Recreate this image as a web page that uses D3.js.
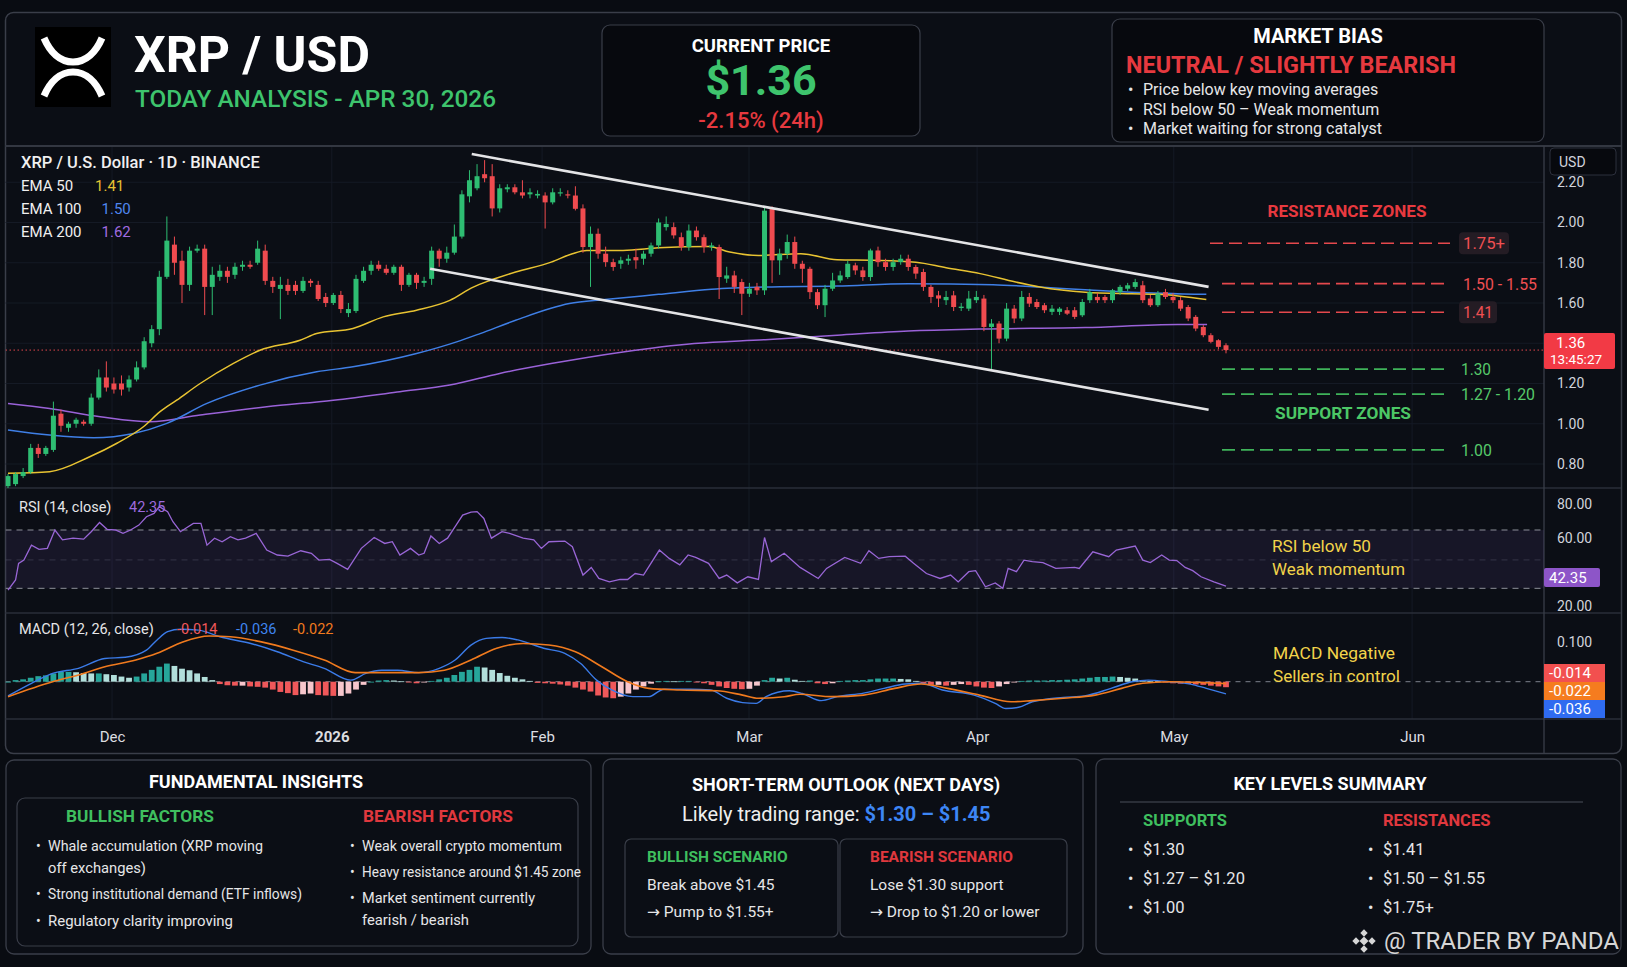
<!DOCTYPE html>
<html><head><meta charset="utf-8">
<script src="https://cdn.jsdelivr.net/npm/d3@7/dist/d3.min.js"></script>
<style>
html,body{margin:0;padding:0;background:#090c12;overflow:hidden}
svg{display:block}
text{font-family:Roboto,'Noto Sans','DejaVu Sans',sans-serif}
</style></head>
<body><svg id="chart" width="1627" height="967"></svg>
<script>
// ---------------- DATA ----------------
// daily candles [open, high, low, close]
const ohlc = [
[.69,.75,.68,.74],[.70,.76,.69,.75],[.74,.78,.73,.76],[.76,.90,.75,.88],[.88,.90,.83,.85],
[.85,.89,.84,.88],[.87,1.11,.86,1.04],[1.05,1.07,.96,.99],[.98,1.01,.96,1.00],[1.00,1.03,.98,1.02],
[1.01,1.02,.99,1.00],[1.00,1.15,.99,1.13],[1.13,1.27,1.12,1.23],[1.23,1.31,1.16,1.18],[1.20,1.23,1.15,1.17],
[1.20,1.24,1.14,1.17],[1.18,1.24,1.16,1.22],[1.22,1.31,1.21,1.28],[1.28,1.43,1.27,1.41],[1.40,1.49,1.38,1.47],
[1.47,1.76,1.44,1.73],[1.73,2.03,1.72,1.91],[1.89,1.93,1.74,1.80],[1.81,1.86,1.60,1.69],[1.69,1.88,1.66,1.86],
[1.86,1.89,1.85,1.87],[1.87,1.89,1.54,1.68],[1.68,1.78,1.54,1.74],[1.73,1.79,1.71,1.76],[1.76,1.78,1.70,1.73],
[1.74,1.80,1.72,1.78],[1.78,1.81,1.76,1.79],[1.79,1.81,1.77,1.78],[1.80,1.91,1.79,1.87],[1.86,1.89,1.69,1.71],
[1.71,1.73,1.65,1.68],[1.67,1.73,1.52,1.69],[1.69,1.72,1.64,1.66],[1.69,1.71,1.64,1.66],[1.66,1.73,1.65,1.71],
[1.71,1.72,1.68,1.70],[1.69,1.71,1.61,1.62],[1.63,1.65,1.58,1.60],[1.60,1.65,1.59,1.64],[1.64,1.66,1.55,1.57],
[1.55,1.60,1.53,1.57],[1.56,1.74,1.55,1.72],[1.71,1.78,1.70,1.76],[1.76,1.81,1.74,1.79],[1.79,1.81,1.76,1.77],
[1.77,1.79,1.74,1.75],[1.75,1.79,1.74,1.78],[1.78,1.79,1.66,1.69],[1.69,1.75,1.68,1.74],[1.74,1.75,1.67,1.70],
[1.70,1.73,1.68,1.71],[1.72,1.88,1.69,1.86],[1.86,1.87,1.78,1.82],[1.82,1.88,1.80,1.85],[1.85,1.99,1.84,1.93],
[1.93,2.16,1.92,2.14],[2.13,2.26,2.10,2.21],[2.17,2.29,2.16,2.23],[2.24,2.31,2.20,2.22],[2.23,2.29,2.03,2.07],
[2.07,2.19,2.05,2.17],[2.165,2.19,2.15,2.175],[2.175,2.19,2.14,2.15],[2.15,2.21,2.12,2.134],[2.14,2.17,2.12,2.15],
[2.134,2.16,2.12,2.142],[2.134,2.15,1.97,2.10],[2.10,2.17,2.09,2.15],[2.145,2.17,2.13,2.15],[2.14,2.16,2.12,2.135],
[2.134,2.18,2.06,2.068],[2.07,2.09,1.85,1.878],[1.878,1.98,1.68,1.944],[1.944,1.97,1.82,1.845],[1.845,1.88,1.78,1.803],
[1.803,1.82,1.76,1.779],[1.795,1.83,1.77,1.812],[1.81,1.84,1.79,1.82],[1.828,1.87,1.77,1.812],[1.82,1.86,1.79,1.845],
[1.845,1.90,1.83,1.886],[1.886,2.02,1.87,2.00],[1.977,2.03,1.96,1.993],[1.977,2.00,1.92,1.936],[1.927,1.95,1.86,1.878],
[1.878,1.99,1.86,1.96],[1.96,1.98,1.91,1.927],[1.927,1.94,1.85,1.878],[1.878,1.90,1.86,1.886],[1.878,1.89,1.62,1.729],
[1.721,1.78,1.70,1.737],[1.737,1.76,1.65,1.68],[1.704,1.72,1.54,1.646],[1.646,1.70,1.63,1.671],[1.68,1.70,1.64,1.663],
[1.663,2.08,1.64,2.059],[2.068,2.08,1.70,1.812],[1.812,1.87,1.74,1.845],[1.845,1.94,1.82,1.903],[1.903,1.93,1.77,1.795],
[1.795,1.81,1.70,1.770],[1.770,1.78,1.62,1.654],[1.654,1.67,1.57,1.589],[1.589,1.69,1.53,1.671],[1.671,1.75,1.66,1.712],
[1.712,1.76,1.70,1.737],[1.729,1.81,1.72,1.795],[1.787,1.80,1.74,1.762],[1.762,1.78,1.71,1.729],[1.729,1.87,1.71,1.861],
[1.861,1.88,1.78,1.803],[1.803,1.82,1.76,1.779],[1.779,1.82,1.76,1.803],[1.803,1.84,1.79,1.82],[1.82,1.84,1.76,1.779],
[1.779,1.79,1.72,1.746],[1.754,1.77,1.66,1.680],[1.680,1.69,1.60,1.630],[1.638,1.66,1.58,1.622],[1.614,1.66,1.59,1.630],
[1.638,1.66,1.56,1.580],[1.575,1.60,1.56,1.582],[1.572,1.66,1.56,1.622],[1.614,1.66,1.60,1.630],[1.622,1.64,1.46,1.481],
[1.481,1.52,1.27,1.498],[1.498,1.51,1.40,1.423],[1.423,1.60,1.41,1.572],[1.572,1.59,1.50,1.523],[1.523,1.66,1.51,1.630],
[1.630,1.65,1.58,1.597],[1.605,1.62,1.57,1.580],[1.589,1.60,1.55,1.564],[1.556,1.59,1.54,1.572],[1.556,1.58,1.54,1.572],
[1.564,1.58,1.54,1.547],[1.564,1.58,1.52,1.531],[1.539,1.62,1.53,1.605],[1.614,1.67,1.60,1.654],[1.630,1.65,1.60,1.614],
[1.630,1.64,1.60,1.614],[1.614,1.67,1.60,1.663],[1.654,1.69,1.64,1.680],[1.671,1.70,1.66,1.688],[1.680,1.72,1.67,1.704],
[1.688,1.71,1.60,1.614],[1.622,1.64,1.58,1.589],[1.589,1.66,1.58,1.646],[1.654,1.67,1.62,1.630],[1.630,1.65,1.60,1.614],
[1.614,1.63,1.56,1.572],[1.580,1.59,1.51,1.523],[1.531,1.54,1.46,1.473],[1.481,1.49,1.43,1.440],[1.440,1.45,1.40,1.407],
[1.415,1.42,1.37,1.382],[1.390,1.40,1.35,1.366]
];
// moving averages [candle index, value]
const ema50 = [[0,.754],[5.5,.762],[10.8,.836],[14.4,.903],[17.9,.985],[20.1,1.06],[22.3,1.117],[25.4,1.20],[29.8,1.30],[33.3,1.365],[38.6,1.415],[40.8,1.448],[45.6,1.473],[49.6,1.531],[54,1.564],[58.4,1.613],[61.5,1.679],[63.7,1.712],[67.1,1.754],[71.8,1.803],[74.6,1.845],[76.5,1.861],[81.3,1.861],[86,1.874],[92.6,1.881],[95.4,1.853],[99.2,1.836],[104.8,1.845],[109.6,1.815],[114.3,1.812],[120,1.803],[124,1.775],[128.5,1.746],[133.2,1.704],[136.4,1.68],[142.4,1.654],[148.5,1.646],[152,1.643],[158.4,1.617]];
const ema100 = [[0,.969],[5.5,.944],[11.3,.931],[16.6,.952],[21,1.002],[26.3,1.101],[33.3,1.192],[40.8,1.258],[45.6,1.283],[54,1.349],[59.3,1.407],[62.4,1.448],[67.1,1.514],[74.2,1.597],[78.9,1.617],[86,1.643],[93,1.668],[100,1.679],[109.6,1.684],[119,1.696],[130.2,1.691],[136.3,1.679],[142.4,1.666],[148.5,1.654],[158.4,1.643]];
const ema200 = [[0,1.101],[5.5,1.076],[12.2,1.035],[18.8,1.010],[25.4,1.043],[34.2,1.084],[43,1.117],[51.8,1.159],[58.4,1.192],[65,1.25],[71.8,1.299],[81.3,1.357],[90.7,1.399],[100.1,1.418],[109.6,1.44],[119,1.461],[128.5,1.471],[142.4,1.478],[154.6,1.493],[158.5,1.493]];
// descending channel end points [index, price]
const channelUpper = [[61.3,2.34],[158.7,1.68]];
const channelLower = [[55.8,1.77],[158.7,1.07]];
const lastPrice = 1.366;
// zones: drawn level and label
const resLevels = [1.897, 1.696, 1.554];
const resLabels = ['1.75+', '1.50 - 1.55', '1.41'];
const supLevels = [1.271, 1.147, 0.870];
const supLabels = ['1.30', '1.27 - 1.20', '1.00'];
// RSI [index, value]
const rsi = [[0,29.4],[1,35.3],[1.4,45.0],[2.1,47.0],[3.1,55.8],[4.1,53.3],[5.2,53.9],[6.2,64.7],[7.2,58.9],[8.6,59.9],[10,59.3],[11,63.7],[12.1,69.1],[13.1,65.1],[14.2,64.7],[15.2,62.7],[16.2,64.7],[17.3,67.6],[18.3,72.5],[19.3,74.5],[20,78.4],[21.1,75.5],[21.8,69.6],[22.8,63.7],[23.5,65.7],[24.5,68.6],[25.5,68.6],[26.3,55.8],[27.3,59.9],[28.3,57.8],[29.4,60.8],[30.4,58.9],[31.4,59.9],[32.8,62.7],[34.2,52.9],[35.6,50.0],[37,49.3],[38.7,52.5],[40.1,51.0],[41.1,47.0],[42.5,47.4],[43.5,45.1],[44.9,41.6],[46.7,53.9],[48.4,60.3],[49.8,56.8],[50.8,57.8],[51.8,50.0],[53.2,53.9],[54.3,50.0],[55,51.0],[55.9,61.2],[57,56.8],[58.1,59.9],[59.1,66.7],[60.1,73.5],[61.2,75.2],[62,75.5],[62.9,71.5],[63.9,59.9],[65.3,63.7],[66.3,62.7],[68.1,59.9],[69.5,58.9],[70.5,53.9],[71.5,57.8],[73.6,58.2],[74.6,54.9],[76,38.2],[77.1,42.7],[78.1,36.2],[79.5,34.2],[80.9,35.6],[81.9,35.6],[82.9,39.1],[84,38.2],[86.1,52.9],[87.4,48.0],[88.8,44.2],[89.9,50.0],[90.9,48.6],[92.6,45.1],[94,36.2],[95,38.2],[96.4,33.6],[97.8,37.2],[99.2,35.6],[100,60.3],[100.9,46.1],[102.6,51.0],[104.7,42.7],[107.1,36.2],[108.2,42.1],[110.6,48.6],[112.7,45.1],[113.8,52.5],[115.1,48.0],[116.5,49.0],[118.6,49.3],[119.7,45.1],[121.4,39.1],[123.2,36.2],[124.6,38.2],[125.6,34.2],[127,40.2],[127.9,40.8],[129.2,31.3],[130.5,33.6],[131.5,30.4],[132.2,42.1],[133.3,40.2],[134.3,47.0],[135.4,46.1],[136.8,45.5],[138.5,42.1],[141,42.7],[141.6,42.1],[143.4,51.9],[145.5,49.0],[146.5,52.9],[149,55.3],[150,47.0],[151,45.5],[152.5,50.0],[153.5,47.0],[154.5,46.7],[155.6,42.7],[156.6,40.8],[157.7,37.2],[159.4,34.2],[161,31.7]];
const rsiBands = [64.7, 47.1, 30.4];
// MACD [index, value]
const macdLine = [[0,-0.036],[3.1,-0.004],[5.9,0.021],[9.3,0.034],[12.8,0.059],[15.5,0.062],[18.3,0.080],[19.7,0.106],[21.1,0.127],[22.8,0.133],[25.2,0.131],[28,0.114],[32.1,0.097],[35.6,0.076],[39,0.051],[41.8,0.034],[45.3,0.004],[47.3,0.021],[49.4,0.029],[51.5,0.029],[54.3,0.023],[57,0.034],[59.1,0.055],[61.2,0.093],[63.2,0.110],[65.3,0.112],[67.4,0.106],[70.8,0.085],[73.6,0.072],[75.7,0.046],[77.8,0.004],[79.8,-0.021],[82.6,-0.038],[84.7,-0.038],[86.7,-0.019],[90.2,-0.019],[92.9,-0.021],[95,-0.042],[97.1,-0.053],[98.9,-0.055],[100.2,-0.038],[103.3,-0.023],[105,-0.030],[107.5,-0.048],[109.6,-0.038],[113.1,-0.029],[115.8,-0.017],[118.6,-0.006],[120.7,-0.004],[123.5,-0.021],[127.7,-0.034],[130.5,-0.055],[131.9,-0.068],[133.6,-0.065],[135.4,-0.051],[139.5,-0.040],[142.3,-0.036],[145.8,-0.017],[148.6,0.0],[150.7,0.004],[153.5,0.0],[156.3,-0.006],[158.4,-0.017],[161,-0.031]];
const signalLine = [[0,-0.038],[5.9,0.0],[9.3,0.017],[12.8,0.038],[16.9,0.055],[19.7,0.072],[23.1,0.101],[26.6,0.116],[29.4,0.114],[33.5,0.101],[37.7,0.080],[41.8,0.055],[45.9,0.023],[50.1,0.023],[54.3,0.023],[57.7,0.029],[61.2,0.055],[64.6,0.085],[68.1,0.097],[71.5,0.093],[75,0.076],[78.5,0.038],[81.9,0.0],[84.7,-0.017],[88.8,-0.021],[93.7,-0.023],[97.1,-0.034],[99.2,-0.042],[102.6,-0.038],[104.7,-0.032],[108.9,-0.038],[113.1,-0.034],[117.2,-0.017],[120.7,-0.006],[124.2,-0.017],[128.4,-0.034],[132.6,-0.051],[135.4,-0.048],[139.5,-0.042],[143.7,-0.034],[147.2,-0.017],[150,-0.004],[153.5,0.0],[157.7,-0.002],[161,-0.005]];
const hist = [0.0,0.004,0.006,0.010,0.014,0.016,0.021,0.025,0.025,0.024,0.022,0.021,0.021,0.019,0.017,0.013,0.010,0.013,0.021,0.030,
0.038,0.046,0.040,0.033,0.029,0.021,0.012,0.004,-0.006,-0.009,-0.010,-0.010,-0.012,-0.013,-0.015,-0.020,-0.026,-0.029,-0.034,-0.032,
-0.030,-0.034,-0.035,-0.036,-0.036,-0.030,-0.020,-0.008,0.0,0.003,0.004,0.003,0.001,-0.002,-0.004,-0.002,0.002,0.006,0.010,0.017,
0.025,0.030,0.038,0.036,0.030,0.022,0.015,0.010,0.006,0.002,-0.003,-0.004,-0.005,-0.007,-0.010,-0.015,-0.020,-0.025,-0.035,-0.040,
-0.042,-0.038,-0.030,-0.020,-0.012,-0.005,0.001,0.002,0.001,0.002,0.002,-0.002,-0.004,-0.008,-0.012,-0.016,-0.018,-0.019,-0.018,-0.010,
0.004,0.010,0.008,0.010,0.005,0.002,0.003,-0.004,-0.006,-0.004,0.002,0.003,0.004,0.004,0.006,0.008,0.008,0.008,0.007,0.006,
0.002,-0.004,-0.008,-0.008,-0.010,-0.008,-0.006,-0.008,-0.012,-0.015,-0.016,-0.012,-0.006,-0.002,0.002,0.003,0.003,0.003,0.004,0.004,
0.005,0.006,0.008,0.010,0.012,0.012,0.013,0.012,0.010,0.008,0.004,0.002,0.001,-0.002,-0.004,-0.005,-0.006,-0.007,-0.008,-0.010,
-0.012,-0.014];
// axes
const priceTicks = [0.80, 1.00, 1.20, 1.60, 1.80, 2.00, 2.20];
const priceGrid = [0.80, 1.00, 1.20, 1.40, 1.60, 1.80, 2.00, 2.20];
const rsiTicks = [20, 60, 80];
const macdTicks = [0.1];
const monthLabels = ['Dec', '2026', 'Feb', 'Mar', 'Apr', 'May', 'Jun'];
const monthIdx = [13.75, 42.8, 70.6, 97.95, 128.1, 154.1, 185.6];

// ---------------- DRAW ----------------
const svg = d3.select('#chart');
const C = {bg:'#090c12', panel:'#0b0e15', border:'#3a3e49', sep:'#2a2e39', grid:'#151a25',
  text:'#e6e6e8', axis:'#d1d4dc', up:'#2ebd72', down:'#ef4b4f', yellow:'#e8c332', blue:'#3f7fe6',
  purple:'#9a62d8', gGreen:'#3ec46d', rRed:'#e6393f', note:'#f2d34a'};

function T(g, x, y, s, o = {}) {
  const t = g.append('text').attr('x', x).attr('y', y).text(s)
    .attr('font-size', o.size || 14).attr('fill', o.fill || C.text)
    .attr('font-weight', o.weight || 400).attr('text-anchor', o.anchor || 'start');
  if (o.len) t.attr('textLength', o.len).attr('lengthAdjust', 'spacingAndGlyphs');
  return t;
}
function R(g, x, y, w, h, o = {}) {
  return g.append('rect').attr('x', x).attr('y', y).attr('width', w).attr('height', h)
    .attr('rx', o.rx || 0).attr('fill', o.fill || 'none')
    .attr('stroke', o.stroke || 'none').attr('stroke-width', o.sw || 1);
}

svg.append('rect').attr('width', 1627).attr('height', 967).attr('fill', C.bg);
R(svg, 5.5, 12.5, 1616, 741, {rx: 8, fill: C.panel, stroke: C.border, sw: 1.5});

// ----- header -----
R(svg, 35, 27, 76, 80, {fill: '#000'});
const logo = svg.append('g').attr('fill', 'none').attr('stroke', '#fff').attr('stroke-width', 7);
logo.append('path').attr('d', 'M44 38 C50 52 60 62 73 62 C86 62 96 52 102 38');
logo.append('path').attr('d', 'M44 96 C50 82 60 72 73 72 C86 72 96 82 102 96');
T(svg, 134, 72, 'XRP / USD', {size: 50, weight: 700, fill: '#fff', len: 236});
T(svg, 135, 107, 'TODAY ANALYSIS - APR 30, 2026', {size: 24, weight: 500, fill: C.gGreen, len: 361});

R(svg, 602, 25, 318, 111, {rx: 8, fill: '#07090e', stroke: C.border, sw: 1.2});
T(svg, 761, 52, 'CURRENT PRICE', {size: 18.5, weight: 700, fill: '#fff', anchor: 'middle'});
T(svg, 761, 95, '$1.36', {size: 43, weight: 700, fill: C.gGreen, anchor: 'middle'});
T(svg, 761, 128, '-2.15% (24h)', {size: 22, weight: 500, fill: C.rRed, anchor: 'middle'});

R(svg, 1112, 19, 432, 123, {rx: 8, fill: '#07090e', stroke: C.border, sw: 1.2});
T(svg, 1318, 43, 'MARKET BIAS', {size: 20, weight: 700, fill: '#fff', anchor: 'middle'});
T(svg, 1126, 73, 'NEUTRAL / SLIGHTLY BEARISH', {size: 24, weight: 700, fill: C.rRed, len: 330});
['Price below key moving averages', 'RSI below 50 – Weak momentum', 'Market waiting for strong catalyst']
  .forEach((s, i) => { T(svg, 1128, 95 + i * 19.5, '•', {size: 16}); T(svg, 1143, 95 + i * 19.5, s, {size: 16}); });

// ----- chart frame -----
const X0 = 5.5, X1 = 1544;
const panes = {price: [146, 488], rsi: [488, 613], macd: [613, 719]};
const x = d3.scaleLinear().domain([0, ohlc.length - 1]).range([8, 1226]);
const yP = d3.scaleLinear().domain([0.8, 2.0]).range([464, 222.5]);
const yR = d3.scaleLinear().domain([20, 80]).range([606, 504]);
const yM = d3.scaleLinear().domain([0, 0.1]).range([681.7, 642.3]);

const defs = svg.append('defs');
Object.entries(panes).forEach(([k, [a, b]]) => {
  defs.append('clipPath').attr('id', 'clip-' + k).append('rect')
    .attr('x', X0).attr('y', a).attr('width', X1 - X0).attr('height', b - a);
});

// grid
const grid = svg.append('g').attr('stroke', C.grid).attr('stroke-width', 1);
priceGrid.forEach(v => grid.append('line').attr('x1', X0).attr('x2', X1).attr('y1', yP(v)).attr('y2', yP(v)));
monthIdx.forEach(i => grid.append('line').attr('x1', x(i)).attr('x2', x(i)).attr('y1', 146).attr('y2', 719));

// separators
const sep = svg.append('g').attr('stroke', C.sep).attr('stroke-width', 1.3);
[146, 488, 613, 719].forEach(y => sep.append('line').attr('x1', X0).attr('x2', 1621).attr('y1', y).attr('y2', y));
sep.append('line').attr('x1', X1).attr('x2', X1).attr('y1', 146).attr('y2', 753).attr('stroke', '#3a3e49');
svg.append('line').attr('x1', X0).attr('x2', 1621).attr('y1', 146).attr('y2', 146).attr('stroke', C.border).attr('stroke-width', 1.5);

// ----- price pane -----
const gp = svg.append('g').attr('clip-path', 'url(#clip-price)');
gp.append('line').attr('x1', X0).attr('x2', X1).attr('y1', yP(lastPrice)).attr('y2', yP(lastPrice))
  .attr('stroke', '#e0474c').attr('stroke-width', 1).attr('stroke-dasharray', '1.5,2.5');
const lineP = d3.line().x(d => x(d[0])).y(d => yP(d[1])).curve(d3.curveMonotoneX);
[[ema200, C.purple], [ema100, C.blue], [ema50, C.yellow]].forEach(([d, c]) =>
  gp.append('path').attr('d', lineP(d)).attr('fill', 'none').attr('stroke', c).attr('stroke-width', 1.5));
const bw = 5;
const cg = gp.selectAll('g.c').data(ohlc).join('g')
  .attr('fill', d => d[3] >= d[0] ? C.up : C.down).attr('stroke', d => d[3] >= d[0] ? C.up : C.down);
cg.append('line').attr('x1', (d, i) => x(i)).attr('x2', (d, i) => x(i))
  .attr('y1', d => yP(d[1])).attr('y2', d => yP(d[2])).attr('stroke-width', 1);
cg.append('rect').attr('x', (d, i) => x(i) - bw / 2).attr('width', bw).attr('stroke', 'none')
  .attr('y', d => yP(Math.max(d[0], d[3])))
  .attr('height', d => Math.max(1.2, Math.abs(yP(d[0]) - yP(d[3]))));
const lineStraight = d3.line().x(d => x(d[0])).y(d => yP(d[1]));
[channelUpper, channelLower].forEach(d => gp.append('path').attr('d', lineStraight(d))
  .attr('stroke', '#e4e4e6').attr('stroke-width', 2.6).attr('fill', 'none'));

// zones
const zoneStart = [1210, 1222, 1222];
const resLen = [42, 74, 30];
resLevels.forEach((v, i) => {
  svg.append('line').attr('x1', zoneStart[i]).attr('x2', 1450).attr('y1', yP(v)).attr('y2', yP(v))
    .attr('stroke', '#e5484d').attr('stroke-width', 1.7).attr('stroke-dasharray', '13,6');
  const t = T(svg, 1463, yP(v) + 6, resLabels[i], {size: 17, fill: '#ef4f52', len: resLen[i]});
  if (i !== 1) svg.insert('rect', () => t.node()).attr('x', 1459).attr('y', yP(v) - 11)
    .attr('width', resLen[i] + 8).attr('height', 22).attr('rx', 4).attr('fill', '#241c24');
});
const supLen = [30, 74, 31];
supLevels.forEach((v, i) => {
  svg.append('line').attr('x1', 1222).attr('x2', 1450).attr('y1', yP(v)).attr('y2', yP(v))
    .attr('stroke', '#3fb35a').attr('stroke-width', 1.7).attr('stroke-dasharray', '13,6');
  T(svg, 1461, yP(v) + 6, supLabels[i], {size: 17, fill: '#56c96a', len: supLen[i]});
});
T(svg, 1347, 217, 'RESISTANCE ZONES', {size: 16, weight: 700, fill: '#e8393f', anchor: 'middle', len: 159});
T(svg, 1343, 419, 'SUPPORT ZONES', {size: 16, weight: 700, fill: '#4cc766', anchor: 'middle', len: 136});

// legend
T(svg, 21, 168, 'XRP / U.S. Dollar · 1D · BINANCE', {size: 16.5, weight: 500, fill: '#f0f0f0'});
[['EMA 50', '1.41', C.yellow, 95], ['EMA 100', '1.50', '#4f86ee', 101.5], ['EMA 200', '1.62', '#a06ce0', 101.5]]
  .forEach(([l, v, c, vx], i) => { T(svg, 21, 191 + i * 22.8, l, {size: 15, fill: '#f0f0f0'}); T(svg, vx, 191 + i * 22.8, v, {size: 15, fill: c}); });

// price axis
const ay = svg.append('g').attr('transform', 'translate(1557,0)')
  .call(d3.axisRight(yP).tickValues(priceTicks).tickSize(0).tickPadding(0).tickFormat(d3.format('.2f')));
ay.select('.domain').remove();
ay.selectAll('text').attr('font-size', 14).attr('fill', C.axis).attr('font-family', null);
R(svg, 1550, 148, 66, 27, {rx: 4, fill: '#07090e', stroke: '#2c303c'});
T(svg, 1559, 166.5, 'USD', {size: 14, fill: C.axis});
R(svg, 1544, 333, 71, 36, {rx: 2, fill: '#f23a45'});
T(svg, 1556, 348, '1.36', {size: 15, fill: '#fff'});
T(svg, 1550, 364, '13:45:27', {size: 13.5, fill: '#fff'});

// ----- RSI pane -----
const gr = svg.append('g').attr('clip-path', 'url(#clip-rsi)');
gr.append('rect').attr('x', X0).attr('width', X1 - X0).attr('y', yR(rsiBands[0]))
  .attr('height', yR(rsiBands[2]) - yR(rsiBands[0])).attr('fill', 'rgba(126,87,194,0.11)');
rsiBands.forEach((v, i) => gr.append('line').attr('x1', X0).attr('x2', X1).attr('y1', yR(v)).attr('y2', yR(v))
  .attr('stroke', i === 1 ? 'rgba(160,160,180,0.22)' : '#8d909a').attr('stroke-width', 1).attr('stroke-dasharray', '6,5'));
gr.append('path').attr('d', d3.line().x(d => x(d[0])).y(d => yR(d[1]))(rsi))
  .attr('fill', 'none').attr('stroke', '#9966d6').attr('stroke-width', 1.3);
T(svg, 19, 512, 'RSI (14, close)', {size: 14.5, fill: '#e6e6e8'});
T(svg, 129, 512, '42.35', {size: 14.5, fill: '#9c6ade'});
T(svg, 1272, 552, 'RSI below 50', {size: 17, fill: C.note, len: 99});
T(svg, 1272, 575, 'Weak momentum', {size: 17, fill: C.note, len: 133});
const ar = svg.append('g').attr('transform', 'translate(1557,0)')
  .call(d3.axisRight(yR).tickValues(rsiTicks).tickSize(0).tickPadding(0).tickFormat(d3.format('.2f')));
ar.select('.domain').remove();
ar.selectAll('text').attr('font-size', 14).attr('fill', C.axis).attr('font-family', null);
R(svg, 1544, 568, 56, 19, {rx: 2, fill: '#8d55c8'});
T(svg, 1549, 583, '42.35', {size: 15, fill: '#fff'});

// ----- MACD pane -----
const gm = svg.append('g').attr('clip-path', 'url(#clip-macd)');
gm.append('line').attr('x1', X0).attr('x2', X1).attr('y1', yM(0)).attr('y2', yM(0))
  .attr('stroke', '#7c808b').attr('stroke-width', 1).attr('stroke-dasharray', '5,5');
gm.selectAll('rect.h').data(hist).join('rect')
  .attr('x', (d, i) => x(i) - 2.9).attr('width', 5.8)
  .attr('y', d => yM(Math.max(0, d))).attr('height', d => Math.max(0.8, Math.abs(yM(d) - yM(0))))
  .attr('fill', (d, i) => {
    const p = i > 0 ? hist[i - 1] : d;
    if (d >= 0) return d >= p ? '#26a69a' : '#b2dfdb';
    return d < p ? '#f0585a' : '#f7c6cc';
  });
const lineM = d3.line().x(d => x(d[0])).y(d => yM(d[1])).curve(d3.curveMonotoneX);
gm.append('path').attr('d', lineM(macdLine)).attr('fill', 'none').attr('stroke', '#3b7be8').attr('stroke-width', 1.4);
gm.append('path').attr('d', lineM(signalLine)).attr('fill', 'none').attr('stroke', '#f07a1e').attr('stroke-width', 1.6);
T(svg, 19, 634, 'MACD (12, 26, close)', {size: 14.5, fill: '#e6e6e8'});
T(svg, 177, 634, '-0.014', {size: 14.5, fill: '#f0585a'});
T(svg, 236, 634, '-0.036', {size: 14.5, fill: '#3f85f0'});
T(svg, 293, 634, '-0.022', {size: 14.5, fill: '#f07a1e'});
T(svg, 1273, 659, 'MACD Negative', {size: 17, fill: C.note, len: 122});
T(svg, 1273, 682, 'Sellers in control', {size: 17, fill: C.note, len: 127});
const am = svg.append('g').attr('transform', 'translate(1557,0)')
  .call(d3.axisRight(yM).tickValues(macdTicks).tickSize(0).tickPadding(0).tickFormat(d3.format('.3f')));
am.select('.domain').remove();
am.selectAll('text').attr('font-size', 14).attr('fill', C.axis).attr('font-family', null);
[['-0.014', '#f2504f'], ['-0.022', '#f57c1f'], ['-0.036', '#2f6bf0']].forEach(([s, c], i) => {
  R(svg, 1544, 664 + i * 18, 61, 18, {fill: c});
  T(svg, 1549, 678 + i * 18, s, {size: 15, fill: '#fff'});
});

// ----- time axis -----
const gx = svg.append('g').attr('transform', 'translate(0,719)')
  .call(d3.axisBottom(x).tickValues(monthIdx).tickSize(0).tickPadding(12).tickFormat((d, i) => monthLabels[i]));
gx.select('.domain').remove();
gx.selectAll('text').attr('font-size', 15).attr('fill', '#dcdde0').attr('font-family', null)
  .attr('font-weight', (d, i) => monthLabels[i] === '2026' ? 700 : 400);

// ----- bottom panels -----
const PB = {rx: 8, fill: '#0b0e15', stroke: C.border, sw: 1.3};
R(svg, 6, 760, 585, 194, PB);
R(svg, 17, 798, 561, 148, {rx: 8, fill: 'none', stroke: C.border, sw: 1.2});
T(svg, 256, 788, 'FUNDAMENTAL INSIGHTS', {size: 18, weight: 700, fill: '#fff', anchor: 'middle'});
T(svg, 66, 822, 'BULLISH FACTORS', {size: 16.5, weight: 700, fill: '#3fbf5f', len: 148});
T(svg, 363, 822, 'BEARISH FACTORS', {size: 16.5, weight: 700, fill: '#e0383e', len: 150});
[['•', 'Whale accumulation (XRP moving', 851, 215], ['', 'off exchanges)', 872.5, 98], ['•', 'Strong institutional demand (ETF inflows)', 899, 254], ['•', 'Regulatory clarity improving', 925.5, 185]]
  .forEach(([b, s, y, l]) => { if (b) T(svg, 36, y, b, {size: 14}); T(svg, 48, y, s, {size: 14, len: l}); });
[['•', 'Weak overall crypto momentum', 851, 200], ['•', 'Heavy resistance around $1.45 zone', 877, 219], ['•', 'Market sentiment currently', 902.5, 173], ['', 'fearish / bearish', 924.5, 107]]
  .forEach(([b, s, y, l]) => { if (b) T(svg, 350, y, b, {size: 14}); T(svg, 362, y, s, {size: 14, len: l}); });

R(svg, 603, 759, 480, 195, PB);
T(svg, 846, 791, 'SHORT-TERM OUTLOOK (NEXT DAYS)', {size: 18, weight: 700, fill: '#fff', anchor: 'middle'});
const lt = T(svg, 682, 821, 'Likely trading range: ', {size: 20, fill: '#eeeeee'});
lt.append('tspan').attr('font-weight', 700).attr('fill', '#3d86f5').text('$1.30 – $1.45');
R(svg, 625, 839, 213, 98, {rx: 6, fill: 'none', stroke: C.border, sw: 1.2});
R(svg, 840, 839, 227, 98, {rx: 6, fill: 'none', stroke: C.border, sw: 1.2});
T(svg, 647, 862, 'BULLISH SCENARIO', {size: 15.5, weight: 700, fill: '#3fbf5f'});
T(svg, 647, 890, 'Break above $1.45', {size: 15.5});
T(svg, 647, 917, '→ Pump to $1.55+', {size: 15.5});
T(svg, 870, 862, 'BEARISH SCENARIO', {size: 15.5, weight: 700, fill: '#e0383e'});
T(svg, 870, 890, 'Lose $1.30 support', {size: 15.5});
T(svg, 870, 917, '→ Drop to $1.20 or lower', {size: 15.5});

R(svg, 1096, 759, 525, 195, PB);
T(svg, 1330, 790, 'KEY LEVELS SUMMARY', {size: 18, weight: 700, fill: '#fff', anchor: 'middle'});
svg.append('line').attr('x1', 1120).attr('x2', 1583).attr('y1', 802).attr('y2', 802).attr('stroke', '#4a4f5a').attr('stroke-width', 1.2);
T(svg, 1143, 826, 'SUPPORTS', {size: 16.5, weight: 700, fill: '#3fbf5f'});
T(svg, 1383, 826, 'RESISTANCES', {size: 16.5, weight: 700, fill: '#e0383e'});
['$1.30', '$1.27 – $1.20', '$1.00'].forEach((s, i) => { T(svg, 1128, 855 + i * 29, '•', {size: 16}); T(svg, 1143, 855 + i * 29, s, {size: 16.5}); });
['$1.41', '$1.50 – $1.55', '$1.75+'].forEach((s, i) => { T(svg, 1368, 855 + i * 29, '•', {size: 16}); T(svg, 1383, 855 + i * 29, s, {size: 16.5}); });
// watermark
const wm = svg.append('g').attr('fill', '#d6d6d6').attr('transform', 'translate(1364,941)');
[[0, 0, 3.2], [-8, 0, 2.6], [8, 0, 2.6], [0, -8, 2.6], [0, 8, 2.6]].forEach(([dx, dy, s]) =>
  wm.append('rect').attr('x', dx - s).attr('y', dy - s).attr('width', 2 * s).attr('height', 2 * s)
    .attr('transform', `rotate(45 ${dx} ${dy})`));
T(svg, 1384, 949, '@ TRADER BY PANDA', {size: 24, fill: '#d6d6d6', len: 235});
</script></body></html>
